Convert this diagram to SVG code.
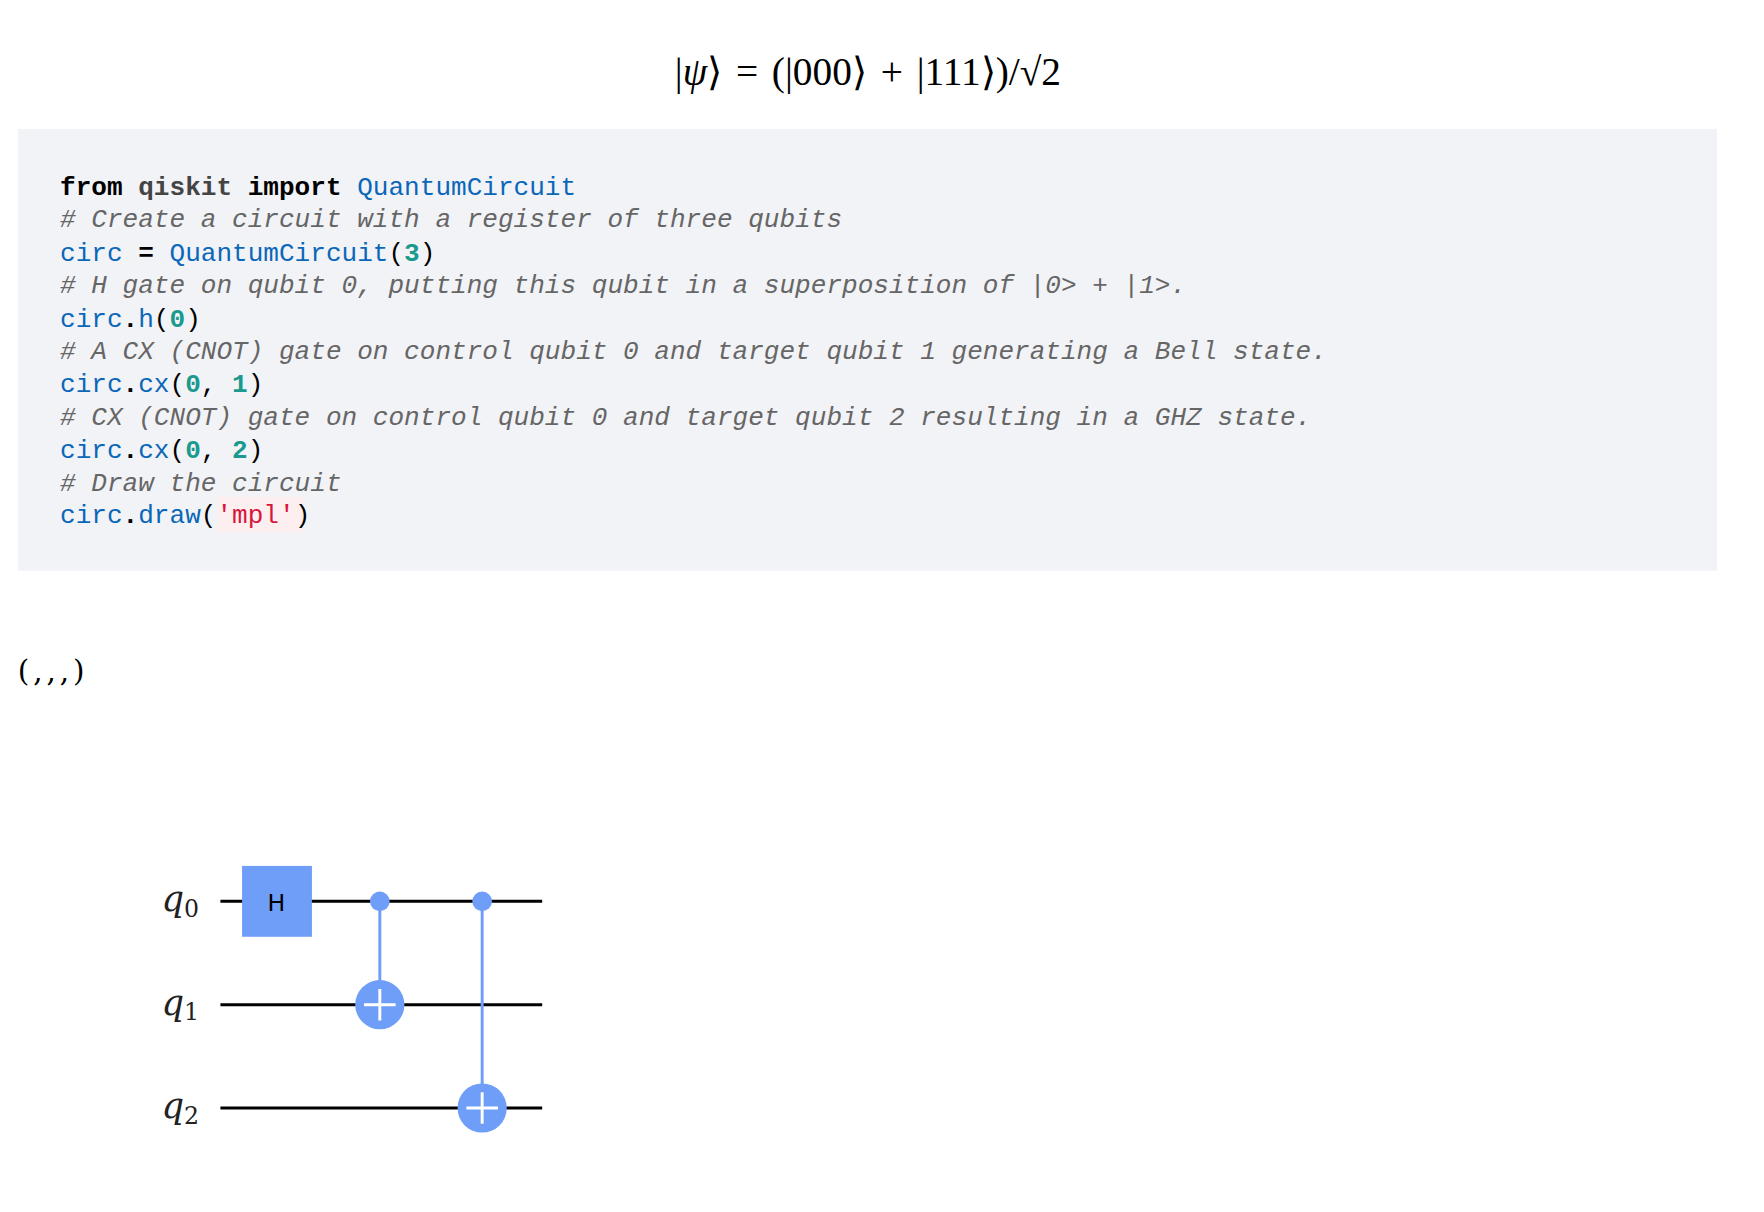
<svg xmlns="http://www.w3.org/2000/svg" width="1764" height="1212" viewBox="0 0 1764 1212">
<style>
.m{font-family:"Liberation Mono",monospace;font-size:26.5px}
.c{fill:#666;font-style:italic}
.b{fill:#0b67b8}
.k{fill:#000;font-weight:bold}
.n{fill:#1a9a8f;font-weight:bold}
.t{fill:#000}
.s{fill:#d6173c}
.w{stroke:#000;stroke-width:3}
.bl{fill:#6f9ef8}
.q{font-family:"DejaVu Serif",serif;font-style:italic;font-size:36px;fill:#222}
.qs{font-size:24px;font-style:normal}
</style>
<g transform="scale(0.984)">
<text x="882" y="86" text-anchor="middle" font-family="Liberation Serif,serif" font-size="40" word-spacing="4" fill="#000">|<tspan font-style="italic">ψ</tspan>⟩ = (|000⟩ + |111⟩)/√2</text>
<rect x="18" y="131" width="1727" height="449" fill="#f2f3f7"/>
<rect x="221" y="505" width="87" height="36" fill="#fdeef0"/>
<g class="m">
<text x="61" y="198"><tspan class="k">from</tspan> <tspan fill="#444" font-weight="bold">qiskit</tspan> <tspan class="k">import</tspan> <tspan class="b">QuantumCircuit</tspan></text>
<text x="61" y="231" class="c"># Create a circuit with a register of three qubits</text>
<text x="61" y="265"><tspan class="b">circ</tspan> <tspan class="k">=</tspan> <tspan class="b">QuantumCircuit</tspan><tspan class="t">(</tspan><tspan class="n">3</tspan><tspan class="t">)</tspan></text>
<text x="61" y="298" class="c"># H gate on qubit 0, putting this qubit in a superposition of |0&gt; + |1&gt;.</text>
<text x="61" y="332"><tspan class="b">circ</tspan><tspan class="k">.</tspan><tspan class="b">h</tspan><tspan class="t">(</tspan><tspan class="n">0</tspan><tspan class="t">)</tspan></text>
<text x="61" y="365" class="c"># A CX (CNOT) gate on control qubit 0 and target qubit 1 generating a Bell state.</text>
<text x="61" y="398"><tspan class="b">circ</tspan><tspan class="k">.</tspan><tspan class="b">cx</tspan><tspan class="t">(</tspan><tspan class="n">0</tspan><tspan class="t">, </tspan><tspan class="n">1</tspan><tspan class="t">)</tspan></text>
<text x="61" y="432" class="c"># CX (CNOT) gate on control qubit 0 and target qubit 2 resulting in a GHZ state.</text>
<text x="61" y="465"><tspan class="b">circ</tspan><tspan class="k">.</tspan><tspan class="b">cx</tspan><tspan class="t">(</tspan><tspan class="n">0</tspan><tspan class="t">, </tspan><tspan class="n">2</tspan><tspan class="t">)</tspan></text>
<text x="61" y="499" class="c"># Draw the circuit</text>
<text x="61" y="532"><tspan class="b">circ</tspan><tspan class="k">.</tspan><tspan class="b">draw</tspan><tspan class="t">(</tspan><tspan class="s">'mpl'</tspan><tspan class="t">)</tspan></text>
</g>
<text x="18" y="692" font-family="DejaVu Serif,serif" font-size="30" letter-spacing="4" fill="#000">(,,,)</text>
<g id="labels">
<text class="q" x="164" y="926">q<tspan class="qs" dy="6">0</tspan></text>
<text class="q" x="164" y="1031">q<tspan class="qs" dy="6">1</tspan></text>
<text class="q" x="164" y="1136">q<tspan class="qs" dy="6">2</tspan></text>
</g>
<g id="wires">
<line class="w" x1="224" y1="916" x2="551" y2="916"/>
<line class="w" x1="224" y1="1021" x2="551" y2="1021"/>
<line class="w" x1="224" y1="1126" x2="551" y2="1126"/>
</g>
<g id="connectors" stroke="#6f9ef8" stroke-width="3">
<line x1="386" y1="916" x2="386" y2="1021"/>
<line x1="490" y1="916" x2="490" y2="1126"/>
</g>
<g id="H"><rect class="bl" x="246" y="880" width="71" height="72"/><text x="281" y="926" text-anchor="middle" font-family="DejaVu Sans,sans-serif" font-size="24" fill="#000">H</text></g>
<g id="ctrl1"><circle class="bl" cx="386" cy="916" r="10"/></g>
<g id="ctrl2"><circle class="bl" cx="490" cy="916" r="10"/></g>
<g id="tgt1"><circle class="bl" cx="386" cy="1021" r="25"/><path d="M386 1005v32M370 1021h32" stroke="#fff" stroke-width="3"/></g>
<g id="tgt2"><circle class="bl" cx="490" cy="1126" r="25"/><path d="M490 1110v32M474 1126h32" stroke="#fff" stroke-width="3"/></g>
</g>
</svg>
